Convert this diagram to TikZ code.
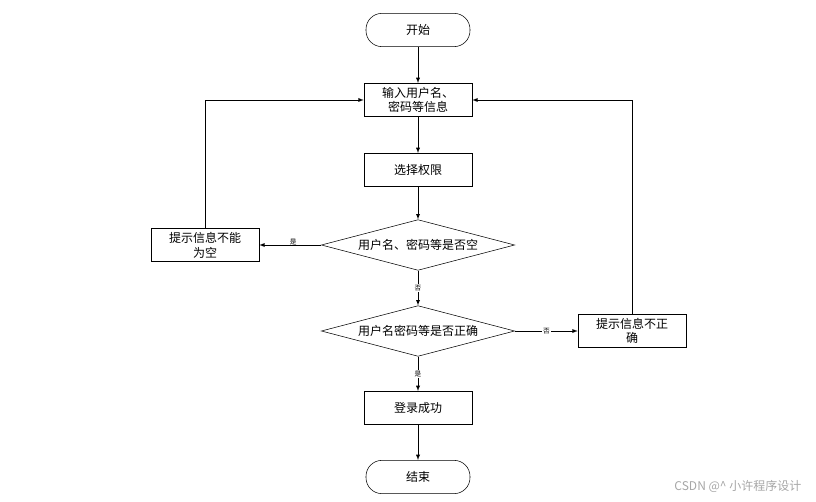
\documentclass[tikz,border=0pt]{standalone}
\usepackage{fontspec}
\setmainfont{Noto Sans CJK SC}
\usetikzlibrary{shapes, arrows, positioning}

\begin{document}
\begin{tikzpicture}[x=0.75pt, y=-0.75pt, font=\small,
	box/.style={draw, minimum width=81pt, minimum height=25pt, align=center, inner sep=1pt},
	term/.style={draw, rounded corners=12pt, minimum width=78pt, minimum height=25pt},
	dia/.style={draw, diamond, aspect=3.9, minimum width=145pt, minimum height=38pt, inner sep=0pt},
	lbl/.style={font=\tiny, inner sep=1pt},
	arr/.style={-latex}]

	\useasboundingbox (0,0) rectangle (816,502);

	\node[term] (start) at (418,30) {开始};
	\node[box] (input) at (418,100) {输入用户名、\\密码等信息};
	\node[box] (role) at (418,170) {选择权限};
	\node[dia] (empty) at (418,245) {用户名、密码等是否空};
	\node[box] (tipempty) at (205,245) {提示信息不能\\为空};
	\node[dia] (check) at (418,331) {用户名密码等是否正确};
	\node[box] (tipwrong) at (632,331) {提示信息不正\\确};
	\node[box] (ok) at (418,408) {登录成功};
	\node[term] (stop) at (418,477) {结束};

	\draw[arr] (start) -- (input);
	\draw[arr] (input) -- (role);
	\draw[arr] (role) -- (empty);
	\draw[arr] (empty) -- node[lbl, fill=white] {否} (check);
	\draw[arr] (check) -- node[lbl, fill=white] {是} (ok);
	\draw[arr] (ok) -- (stop);
	\draw[arr] (empty) -- node[lbl, above=-1pt, pos=0.45] {是} (tipempty);
	\draw[arr] (check) -- node[lbl, fill=white] {否} (tipwrong);
	\draw[arr] (tipempty.north) |- (input.west);
	\draw[arr] (tipwrong.north) |- (input.east);

	%\node at (720,486) {watermark};
	\node[text=gray!70, font=\small, anchor=east] (mark) at (806,486) {CSDN @\textasciicircum{} 小许程序设计};
\end{tikzpicture}
\end{document}
